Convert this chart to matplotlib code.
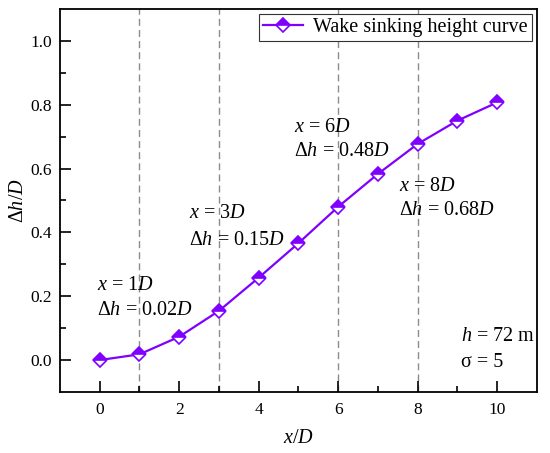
import numpy as np
import matplotlib
matplotlib.use("Agg")
from matplotlib import pyplot as plt

plt.rcParams["font.family"] = ["Liberation Serif", "DejaVu Serif"]
plt.rcParams["mathtext.fontset"] = "custom"
plt.rcParams["mathtext.rm"] = "Liberation Serif"
plt.rcParams["mathtext.it"] = "Liberation Serif:italic"

# data
x_d = [0, 1, 2, 3, 4, 5, 6, 7, 8, 9, 10]
dh = [0.0, 0.018, 0.073, 0.154, 0.258, 0.366, 0.48, 0.583, 0.677, 0.75, 0.807]
marked_x = [1, 3, 6, 8]
notes = [
    (-0.07, 0.235, 0.154, "1", "0.02"),
    (2.26, 0.46, 0.376, "3", "0.15"),
    (4.9, 0.73, 0.653, "6", "0.48"),
    (7.52, 0.543, 0.468, "8", "0.68"),
]

purple = "#7F00FF"
fs = 14.5

fig = plt.figure(figsize=(5.5, 4.53), dpi=100)
ax = fig.add_axes([0.109, 0.1347, 0.867, 0.8455])

for xv in marked_x:
    ax.axvline(xv, color="#8c8c8c", lw=1, ls=(0, (5, 3)), zorder=1)

ax.plot(x_d, dh, color=purple, lw=1.6, marker="D", ms=7,
        fillstyle="top", markerfacecolor=purple, markerfacecoloralt="white",
        markeredgecolor=purple, markeredgewidth=1.2,
        label="Wake sinking height curve", zorder=3)

for tx, y1, y2, n, v in notes:
    ax.text(tx, y1, r"$x$ = " + n + r"$D$", fontsize=fs, va="center", ha="left")
    ax.text(tx, y2, r"Δ$h$ = " + v + r"$D$", fontsize=fs, va="center", ha="left")

ax.text(9.09, 0.073, r"$h$ = 72 m", fontsize=fs, va="center", ha="left")
ax.text(9.09, -0.008, "σ = 5", fontsize=fs, va="center", ha="left")

ax.set_xlim(-1, 11)
ax.set_ylim(-0.1, 1.1)
ax.set_xticks([0, 2, 4, 6, 8, 10])
ax.set_xticks([1, 3, 5, 7, 9], minor=True)
ax.set_yticks([0.0, 0.2, 0.4, 0.6, 0.8, 1.0])
ax.set_yticks([0.1, 0.3, 0.5, 0.7, 0.9], minor=True)
ax.yaxis.set_major_formatter(matplotlib.ticker.FormatStrFormatter("%.1f"))
ax.tick_params(which="both", direction="in", labelsize=12.5, width=1.2)
ax.tick_params(which="major", length=8)
ax.tick_params(which="minor", length=4)
ax.tick_params(axis="y", which="major", pad=6)
ax.tick_params(axis="x", which="major", pad=7)
for s in ax.spines.values():
    s.set_linewidth(1.3)

ax.set_xlabel(r"$x/D$", fontsize=fs)
ax.set_ylabel(r"Δ$h/D$", fontsize=fs)
ax.xaxis.set_label_coords(0.5, -0.097)
ax.yaxis.set_label_coords(-0.068, 0.5)

leg = ax.legend(loc="upper right", fontsize=fs, fancybox=False, edgecolor="#333333",
                framealpha=1, borderaxespad=0.25, handlelength=2.0,
                borderpad=0.2, handletextpad=0.5)
leg.get_frame().set_linewidth(0.8)

fig.savefig("out.png", dpi=100)
